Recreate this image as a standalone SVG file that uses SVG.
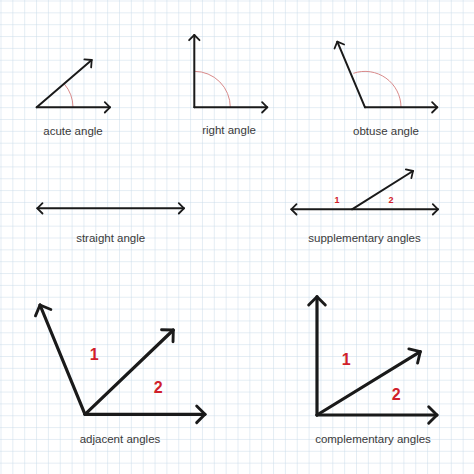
<svg xmlns="http://www.w3.org/2000/svg" width="474" height="474" viewBox="0 0 474 474">
<defs>
<pattern id="grid" x="0.5" y="0.5" width="11.85" height="11.85" patternUnits="userSpaceOnUse">
<path d="M0,0 V11.85 M0,0 H11.85" fill="none" stroke="#c9dcea" stroke-width="1"/>
</pattern>
<marker id="ah" viewBox="-4 -4 5 8" refX="0" refY="0" markerWidth="5" markerHeight="8" orient="auto" markerUnits="strokeWidth">
<path d="M-2.6,-2.6 L0,0 L-2.6,2.6" fill="none" stroke="#1a1a1a" stroke-width="0.9" stroke-linecap="round" stroke-linejoin="round"/>
</marker>
<marker id="ahs" viewBox="-4 -4 5 8" refX="0" refY="0" markerWidth="5" markerHeight="8" orient="auto-start-reverse" markerUnits="strokeWidth">
<path d="M-2.6,-2.6 L0,0 L-2.6,2.6" fill="none" stroke="#1a1a1a" stroke-width="0.9" stroke-linecap="round" stroke-linejoin="round"/>
</marker>
</defs>
<style>
.ray{fill:none;stroke:#1a1a1a;stroke-width:2;stroke-linecap:round;marker-end:url(#ah)}
.big{stroke-width:3.2}
.arc{fill:none;stroke:#d98a8a;stroke-width:1}
.lbl{font-family:"Liberation Sans",Arial,sans-serif;font-size:11.5px;fill:#3a3a3a;text-anchor:middle}
.num{font-family:"Liberation Sans",Arial,sans-serif;font-weight:bold;fill:#d0202a;text-anchor:middle}
</style>
<rect width="474" height="474" fill="#ffffff"/>
<rect width="474" height="474" fill="url(#grid)"/>

<g id="acute">
<path class="arc" d="M73,107.3 A36.3,36.3 0 0 0 64.3,84"/>
<line class="ray" x1="36.7" y1="107.3" x2="110" y2="107.3"/>
<line class="ray" x1="36.7" y1="107.3" x2="91.7" y2="60"/>
<text class="lbl" x="73" y="135">acute angle</text>
</g>

<g id="right">
<path class="arc" d="M230.3,107.3 A36,36 0 0 0 194.3,71.3"/>
<line class="ray" x1="194.3" y1="107.3" x2="267.3" y2="107.3"/>
<line class="ray" x1="194.3" y1="107.3" x2="194.3" y2="35"/>
<text class="lbl" x="229" y="134">right angle</text>
</g>

<g id="obtuse">
<path class="arc" d="M401,107.3 A36,36 0 0 0 353.4,73.3"/>
<line class="ray" x1="365" y1="107.3" x2="437.3" y2="107.3"/>
<line class="ray" x1="365" y1="107.3" x2="337.3" y2="41.7"/>
<text class="lbl" x="386" y="135">obtuse angle</text>
</g>

<g id="straight">
<line class="ray" x1="37.3" y1="208.3" x2="184" y2="208.3" style="marker-start:url(#ahs)"/>
<text class="lbl" x="110.7" y="242">straight angle</text>
</g>

<g id="supplementary">
<line class="ray" x1="291.3" y1="209.3" x2="438" y2="209.3" style="marker-start:url(#ahs)"/>
<line class="ray" x1="352" y1="209.3" x2="413" y2="171"/>
<text class="num" x="337" y="203" font-size="9">1</text>
<text class="num" x="391" y="203" font-size="9">2</text>
<text class="lbl" x="364.5" y="242">supplementary angles</text>
</g>

<g id="adjacent">
<line class="ray big" x1="85" y1="414.3" x2="205" y2="414.3"/>
<line class="ray big" x1="85" y1="414.3" x2="40" y2="305"/>
<line class="ray big" x1="85" y1="414.3" x2="173.3" y2="330"/>
<text class="num" x="94.3" y="360" font-size="16">1</text>
<text class="num" x="158.3" y="392.5" font-size="16">2</text>
<text class="lbl" x="120" y="443">adjacent angles</text>
</g>

<g id="complementary">
<line class="ray big" x1="317" y1="415" x2="437" y2="415"/>
<line class="ray big" x1="317" y1="415" x2="317" y2="296.7"/>
<line class="ray big" x1="317" y1="415" x2="420.3" y2="351.7"/>
<text class="num" x="346.3" y="365" font-size="16">1</text>
<text class="num" x="396.3" y="400" font-size="16">2</text>
<text class="lbl" x="373" y="443">complementary angles</text>
</g>
</svg>
